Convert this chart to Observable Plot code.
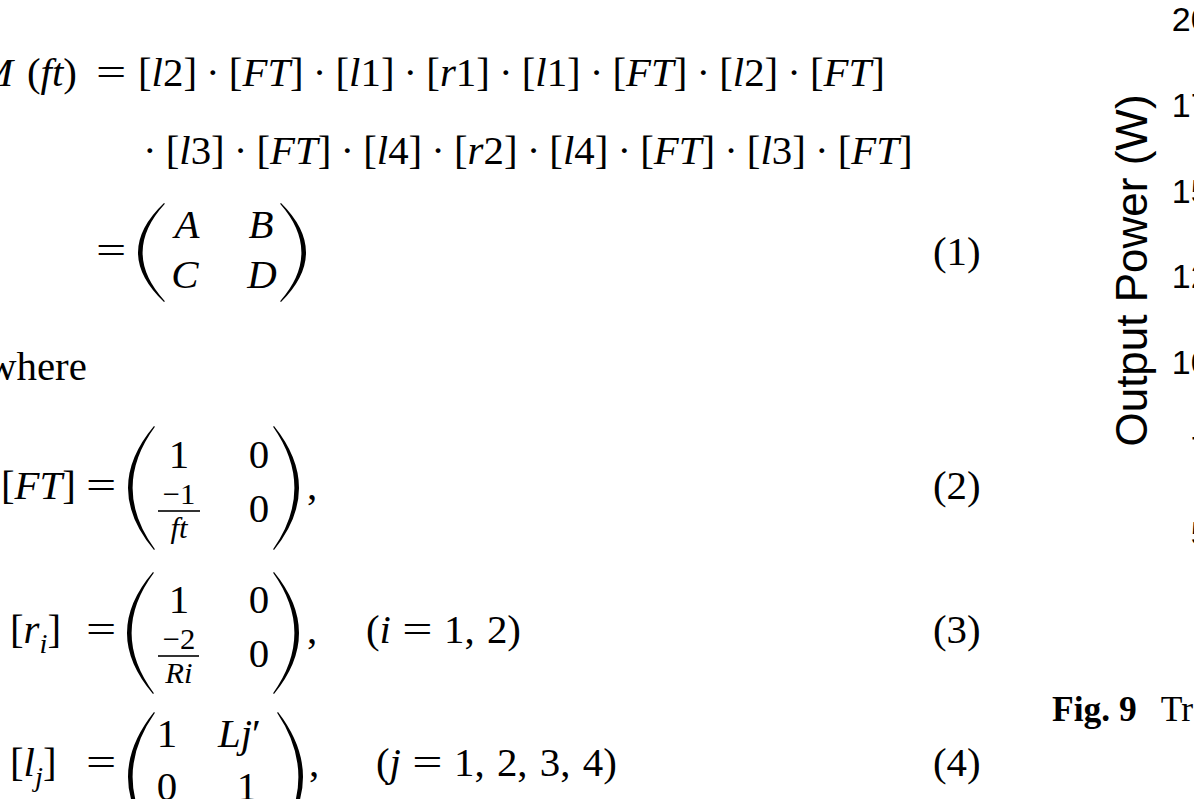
<!DOCTYPE html>
<html>
<head>
<meta charset="utf-8">
<script src="https://cdn.jsdelivr.net/npm/d3@7"></script>
<script src="https://cdn.jsdelivr.net/npm/@observablehq/plot@0.6"></script>
<style>
  html, body { margin: 0; padding: 0; background: #fff; overflow: hidden; width: 1194px; height: 799px; }
  #page { position: absolute; left: 0; top: 0; width: 1194px; height: 799px; overflow: hidden; }
  #eq { position: absolute; left: 0; top: 0; }
  #chart { position: absolute; left: 1000px; top: 0; width: 440px; }
  #chart svg { max-width: none !important; }
</style>
</head>
<body>
<div id="page">
  <svg id="eq" width="1194" height="799"></svg>
  <div id="chart"></div>
</div>
<script>
// ---------------- chart data (only the y axis of Fig. 9 is in view) ----------------
const yTickValues = [50, 75, 100, 125, 150, 175, 200];
const yDomain = [50, 200];
const yLabel = "Output Power (W)";
const captionBold = "Fig. 9";
const captionRest = "Tr";

const chart = Plot.plot({
  width: 440,
  height: 560,
  marginLeft: 238,
  marginRight: 20,
  marginTop: 20,
  marginBottom: 26,
  style: {
    fontFamily: "'Liberation Sans', Arial, Helvetica, sans-serif",
    fontSize: "34px",
    color: "#000",
    background: "transparent",
    overflow: "visible"
  },
  x: {domain: [0, 1], axis: null},
  y: {domain: yDomain, ticks: yTickValues, label: null},
  marks: [
    Plot.frame({stroke: "#000", strokeWidth: 1}),
    Plot.axisY(yTickValues, {tickSize: 0, tickPadding: 10, label: null, fontSize: 34, fill: "#000"}),
    Plot.text([yLabel], {frameAnchor: "left", textAnchor: "middle", rotate: -90, fontSize: 44, dx: -106, dy: -7, lineAnchor: "middle", fill: "#000"})
  ]
});
chart.style.maxWidth = "none";
document.getElementById("chart").appendChild(chart);

// ---------------- surrounding page text (equations) ----------------
const K = 1.022;         // horizontal width factor of the math setting
const FS = 40;           // equation font size
const SS = 30;           // script size (fractions)
const root = d3.select("#eq");
const g = root.append("g")
  .attr("transform", `scale(${K},1)`)
  .attr("font-family", "'Liberation Serif','Times New Roman',serif")
  .attr("fill", "#000");

function addParts(t, parts, size) {
  let shift = 0;
  for (const p of parts) {
    const s = typeof p === "string" ? {t: p} : p;
    const ts = t.append("tspan").text(s.t);
    if (s.i) ts.attr("font-style", "italic");
    if (s.b) ts.attr("font-weight", "bold");
    const target = s.sub ? 0.25 * size : 0;
    if (s.sub) ts.attr("font-size", size * 0.7);
    if (target !== shift) { ts.attr("dy", target - shift); shift = target; }
  }
}
function put(x, y, parts, size = FS, anchor = "start") {
  const t = g.append("text").attr("x", x / K).attr("y", y)
    .attr("font-size", size).attr("text-anchor", anchor);
  addParts(t, parts, size);
  return t;
}
function eqSign(xDesign, y, size = FS) {
  g.append("text").attr("x", xDesign).attr("y", y).attr("font-size", size)
    .attr("textLength", 0.74 * size).attr("lengthAdjust", "spacingAndGlyphs").text("=");
  return 0.74 * size;
}
// lay out a row of tokens with TeX-like spacing (em units)
function seq(x, y, items, size = FS) {
  let cx = x / K;
  for (const it of items) {
    if (it === "=") {
      cx += 0.278 * size;
      cx += eqSign(cx, y, size);
      cx += 0.278 * size;
      continue;
    }
    cx += (it.pre || 0) * size;
    const t = g.append("text").attr("x", cx).attr("y", y).attr("font-size", size);
    addParts(t, it.parts, size);
    cx += t.node().getComputedTextLength() + (it.post || 0) * size;
  }
}
function paren(x1, x2, y1, y2, left = true) {
  const w = 4.6, ym = (y1 + y2) / 2;
  let d;
  if (left) {
    const co = 2 * x1 - x2, ci = 2 * (x1 + w) - (x2 + 0.9);
    d = `M${x2},${y1} Q${co},${ym} ${x2},${y2} L${x2 + 0.9},${y2 - 0.8} Q${ci},${ym} ${x2 + 0.9},${y1 + 0.8} Z`;
  } else {
    const co = 2 * x2 - x1, ci = 2 * (x2 - w) - (x1 - 0.9);
    d = `M${x1},${y1} Q${co},${ym} ${x1},${y2} L${x1 - 0.9},${y2 - 0.8} Q${ci},${ym} ${x1 - 0.9},${y1 + 0.8} Z`;
  }
  root.append("path").attr("d", d).attr("fill", "#000");
}
function frac(cx, yBar, num, den, x1, x2) {
  put(cx, yBar - 7, num, SS, "middle");
  root.append("rect").attr("x", x1).attr("y", yBar - 0.8).attr("width", x2 - x1).attr("height", 1.6).attr("fill", "#000");
  put(cx, yBar + 27, den, SS, "middle");
}

const dot = {parts: ["\u00B7"], pre: 0.222, post: 0.222};
const Lb = n => ({parts: ["[", {t: "l", i: true}, n + "]"]});
const Rb = n => ({parts: ["[", {t: "r", i: true}, n + "]"]});
const FT = {parts: ["[", {t: "FT", i: true}, "]"]};

// Eq. (1), line 1
put(-21, 86, [{t: "M", i: true}]);
put(27, 86, ["(", {t: "ft", i: true}, ")"]);
eqSign(96 / K, 86);
seq(138, 86, [Lb(2), dot, FT, dot, Lb(1), dot, Rb(1), dot, Lb(1), dot, FT, dot, Lb(2), dot, FT]);
// Eq. (1), line 2
seq(143, 164, [{parts: ["\u00B7"], post: 0.222}, Lb(3), dot, FT, dot, Lb(4), dot, Rb(2), dot, Lb(4), dot, FT, dot, Lb(3), dot, FT]);
// Eq. (1), line 3
eqSign(96 / K, 264);
paren(138, 164, 203, 302, true);
put(187, 238, [{t: "A", i: true}], FS, "middle");
put(261, 238, [{t: "B", i: true}], FS, "middle");
put(185, 288, [{t: "C", i: true}], FS, "middle");
put(262, 288, [{t: "D", i: true}], FS, "middle");
paren(281, 306, 203, 302, false);
put(933, 265, ["(1)"]);

// where
put(-13, 380, ["where"]);

// Eq. (2)
put(1, 499, ["[", {t: "FT", i: true}, "]"]);
eqSign(86 / K, 499);
paren(128, 154, 426, 550, true);
put(179, 468, ["1"], FS, "middle");
put(259, 468, ["0"], FS, "middle");
frac(179, 511, ["\u22121"], [{t: "ft", i: true}], 158, 200);
put(259, 522, ["0"], FS, "middle");
paren(274, 299, 426, 550, false);
put(307, 499, [","]);
put(933, 499, ["(2)"]);

// Eq. (3)
put(10, 643, ["[", {t: "r", i: true}, {t: "i", i: true, sub: true}, "]"]);
eqSign(86 / K, 643);
paren(127, 153, 572, 694, true);
put(179, 613, ["1"], FS, "middle");
put(259, 613, ["0"], FS, "middle");
frac(179, 656, ["\u22122"], [{t: "Ri", i: true}], 158, 199);
put(259, 667, ["0"], FS, "middle");
paren(274, 299, 572, 694, false);
put(307, 643, [","]);
seq(366, 643, [{parts: ["(", {t: "i", i: true}]}, "=", {parts: ["1,"]}, {parts: ["2)"], pre: 0.3}]);
put(933, 643, ["(3)"]);

// Eq. (4)
put(10, 776, ["[", {t: "l", i: true}, {t: "j", i: true, sub: true}, "]"]);
eqSign(86 / K, 776);
paren(128, 154, 712, 842, true);
put(167, 747, ["1"], FS, "middle");
put(218, 747, [{t: "Lj", i: true}, "\u2032"]);
put(167, 800, ["0"], FS, "middle");
put(247, 800, ["1"], FS, "middle");
paren(278, 303, 712, 842, false);
put(309, 776, [","]);
seq(376, 776, [{parts: ["(", {t: "j", i: true}]}, "=", {parts: ["1,"]}, {parts: ["2,"], pre: 0.3}, {parts: ["3,"], pre: 0.3}, {parts: ["4)"], pre: 0.3}]);
put(933, 776, ["(4)"]);

// figure caption (below the chart)
const cap = root.append("text").attr("x", 1052).attr("y", 721)
  .attr("font-family", "'Liberation Serif','Times New Roman',serif").attr("font-size", 35.5).attr("fill", "#000");
cap.append("tspan").attr("font-weight", "bold").text(captionBold);
cap.append("tspan").attr("dx", 24).text(captionRest);
</script>
</body>
</html>
